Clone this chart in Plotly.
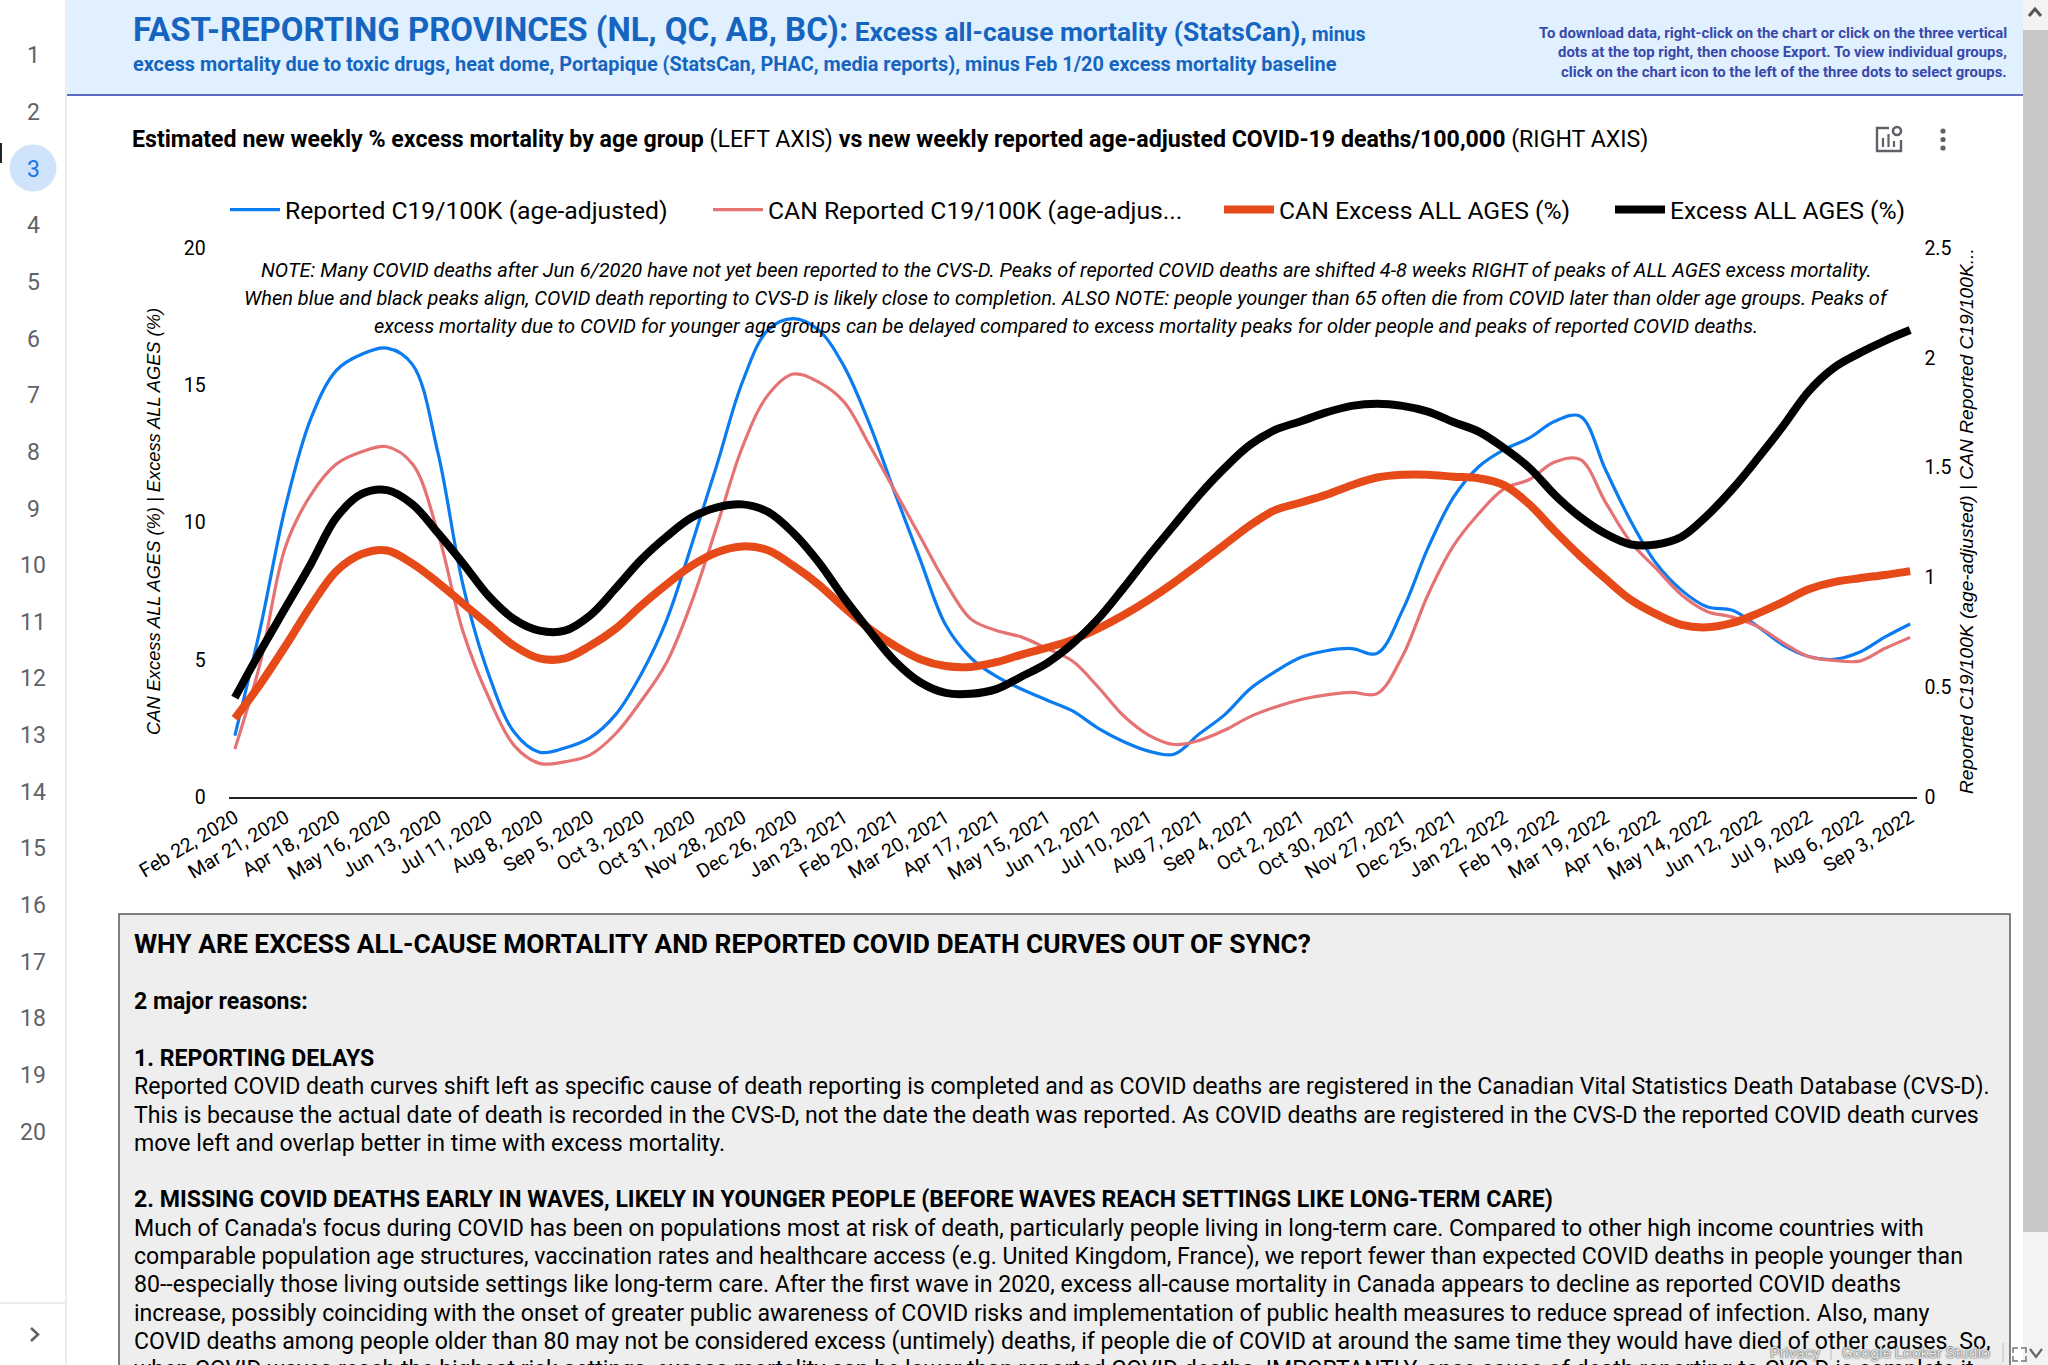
import pandas as pd
import plotly.graph_objects as go

start_date = "2020-02-22"
sample_count = 67
tick_labels = ["Feb 22, 2020","Mar 21, 2020","Apr 18, 2020","May 16, 2020","Jun 13, 2020","Jul 11, 2020",
    "Aug 8, 2020","Sep 5, 2020","Oct 3, 2020","Oct 31, 2020","Nov 28, 2020","Dec 26, 2020","Jan 23, 2021",
    "Feb 20, 2021","Mar 20, 2021","Apr 17, 2021","May 15, 2021","Jun 12, 2021","Jul 10, 2021","Aug 7, 2021",
    "Sep 4, 2021","Oct 2, 2021","Oct 30, 2021","Nov 27, 2021","Dec 25, 2021","Jan 22, 2022","Feb 19, 2022",
    "Mar 19, 2022","Apr 16, 2022","May 14, 2022","Jun 12, 2022","Jul 9, 2022","Aug 6, 2022","Sep 3, 2022"]

excess_all = [3.62,5.30,6.90,8.50,10.18,11.04,11.18,10.66,9.62,8.50,7.32,6.48,6.06,6.06,6.62,7.60,8.64,9.48,
    10.18,10.55,10.66,10.39,9.62,8.55,7.25,6.06,4.95,4.18,3.79,3.76,3.93,4.39,4.88,5.58,6.48,7.60,8.78,9.90,
    11.01,11.99,12.83,13.38,13.69,14.01,14.25,14.33,14.25,14.04,13.66,13.31,12.71,11.99,11.01,10.20,9.59,9.20,
    9.20,9.48,10.25,11.22,12.34,13.52,14.78,15.64,16.17,16.62,17.01]
can_excess_all = [2.86,4.11,5.51,6.97,8.23,8.85,8.98,8.50,7.81,7.04,6.27,5.51,5.05,5.05,5.51,6.13,6.97,7.74,
    8.43,8.92,9.13,8.99,8.43,7.74,6.90,6.13,5.51,5.02,4.77,4.74,4.91,5.19,5.44,5.72,6.13,6.62,7.18,7.81,8.50,
    9.20,9.90,10.46,10.73,11.01,11.36,11.64,11.74,11.74,11.67,11.61,11.36,10.66,9.69,8.78,7.95,7.18,6.66,6.27,
    6.18,6.34,6.69,7.11,7.57,7.83,7.97,8.09,8.23]
reported = [0.279,0.767,1.325,1.725,1.943,2.016,2.044,1.969,1.568,0.959,0.558,0.296,0.204,0.223,0.270,0.375,
    0.558,0.802,1.150,1.516,1.891,2.126,2.178,2.126,1.961,1.699,1.385,1.081,0.784,0.633,0.549,0.491,0.441,
    0.392,0.314,0.253,0.209,0.195,0.288,0.375,0.493,0.572,0.636,0.666,0.676,0.654,0.850,1.133,1.363,1.504,
    1.582,1.635,1.711,1.734,1.490,1.255,1.063,0.941,0.866,0.850,0.776,0.692,0.640,0.627,0.659,0.728,0.788]
can_reported = [0.218,0.610,1.141,1.377,1.516,1.572,1.595,1.516,1.203,0.749,0.453,0.235,0.153,0.160,0.192,
    0.288,0.436,0.610,0.889,1.237,1.595,1.830,1.926,1.889,1.799,1.603,1.394,1.185,0.976,0.810,0.758,0.728,
    0.676,0.619,0.502,0.371,0.282,0.239,0.258,0.305,0.366,0.410,0.444,0.465,0.476,0.471,0.641,0.920,1.142,
    1.290,1.403,1.446,1.525,1.537,1.342,1.159,1.040,0.920,0.845,0.819,0.776,0.702,0.640,0.622,0.619,0.676,0.727]

series_names = ["Reported C19/100K (age-adjusted)", "CAN Reported C19/100K (age-adjus...",
                "CAN Excess ALL AGES (%)", "Excess ALL AGES (%)"]

note_lines = [
 "NOTE: Many COVID deaths after Jun 6/2020 have not yet been reported to the CVS-D. Peaks of reported COVID deaths are shifted 4-8 weeks RIGHT of peaks of ALL AGES excess mortality.",
 "When blue and black peaks align, COVID death reporting to CVS-D is likely close to completion. ALSO NOTE: people younger than 65 often die from COVID later than older age groups. Peaks of",
 "excess mortality due to COVID for younger age groups can be delayed compared to excess mortality peaks for older people and peaks of reported COVID deaths.",
]
body_lines = [
 (944, "<b>WHY ARE EXCESS ALL-CAUSE MORTALITY AND REPORTED COVID DEATH CURVES OUT OF SYNC?</b>", 26.4),
 (1002, "<b>2 major reasons:</b>", 23.1),
 (1058, "<b>1. REPORTING DELAYS</b>", 23.1),
 (1086, "Reported COVID death curves shift left as specific cause of death reporting is completed and as COVID deaths are registered in the Canadian Vital Statistics Death Database (CVS-D).", 23.1),
 (1115, "This is because the actual date of death is recorded in the CVS-D, not the date the death was reported. As COVID deaths are registered in the CVS-D the reported COVID death curves", 23.1),
 (1143, "move left and overlap better in time with excess mortality.", 23.1),
 (1199, "<b>2. MISSING COVID DEATHS EARLY IN WAVES, LIKELY IN YOUNGER PEOPLE (BEFORE WAVES REACH SETTINGS LIKE LONG-TERM CARE)</b>", 23.1),
 (1228, "Much of Canada's focus during COVID has been on populations most at risk of death, particularly people living in long-term care. Compared to other high income countries with", 23.1),
 (1256, "comparable population age structures, vaccination rates and healthcare access (e.g. United Kingdom, France), we report fewer than expected COVID deaths in people younger than", 23.1),
 (1284, "80--especially those living outside settings like long-term care. After the first wave in 2020, excess all-cause mortality in Canada appears to decline as reported COVID deaths", 23.1),
 (1313, "increase, possibly coinciding with the onset of greater public awareness of COVID risks and implementation of public health measures to reduce spread of infection. Also, many", 23.1),
 (1341, "COVID deaths among people older than 80 may not be considered excess (untimely) deaths, if people die of COVID at around the same time they would have died of other causes. So,", 23.1),
 (1369, "when COVID waves reach the highest risk settings, excess mortality can be lower than reported COVID deaths. IMPORTANTLY, once cause of death reporting to CVS-D is complete it", 23.1),
]

# ---------- page geometry ----------
W, H = 2048, 1365
dates = pd.date_range(start_date, periods=sample_count, freq="14D")
px = lambda v: v / W
py = lambda v: 1 - v / H

shapes, annos = [], []

def rect(x0, y0, x1, y1, fill, line=None, lw=0):
    shapes.append(dict(type="rect", xref="paper", yref="paper", x0=px(x0), x1=px(x1), y0=py(y0), y1=py(y1),
                       fillcolor=fill, line=dict(color=line or fill, width=lw), layer="below"))

def seg(points, color, lw):
    d = "M " + " L ".join(f"{px(x):.5f},{py(y):.5f}" for x, y in points)
    shapes.append(dict(type="path", xref="paper", yref="paper", path=d, line=dict(color=color, width=lw), layer="above"))

def dot(cx, cy, r, fill, layer="above"):
    shapes.append(dict(type="circle", xref="paper", yref="paper", x0=px(cx-r), x1=px(cx+r), y0=py(cy+r), y1=py(cy-r),
                       fillcolor=fill, line=dict(width=0), layer=layer))

def text(x, y, s, size, color="#000000", anchor="left", angle=0, **font):
    annos.append(dict(x=px(x), y=py(y), xref="paper", yref="paper", text=s, showarrow=False, xanchor=anchor,
                      yanchor="middle", textangle=angle, borderpad=0, borderwidth=0,
                      font=dict(family="Roboto", size=size, color=color, **font)))

# backgrounds
rect(66, 0, 2023, 94, "#e1f0fe")
rect(66, 94, 2023, 96, "#5c6bc0")
rect(119, 914, 2010, 1380, "#eeeeee", "#5a5a5a", 1.5)
rect(2023, 0, 2048, H, "#f3f3f3")
rect(2023, 30, 2048, 1232, "#c8c8c8")
rect(65, 0, 67, H, "#ececec")
rect(0, 1302, 66, 1304, "#ececec")
rect(0, 143, 2, 163, "#222222")
dot(33, 168, 23.5, "#cfe4fb", "below")

# sidebar page numbers
for i in range(20):
    text(33, 55.8 + 56.65 * i, str(i + 1), 23, "#1a73e8" if i == 2 else "#5f6368", "center")
seg([(31, 1328), (38, 1334.5), (31, 1341)], "#5f6368", 2.6)
seg([(2029, 16), (2035, 9), (2041, 16)], "#555555", 3)

# header
text(133, 29, '<b>FAST-REPORTING PROVINCES (NL, QC, AB, BC):</b>'
              '<span style="font-size:26.4px"><b> Excess all-cause mortality (StatsCan),</b></span>'
              '<span style="font-size:19.5px"><b> minus</b></span>', 33, "#1565c0")
text(133, 64, "<b>excess mortality due to toxic drugs, heat dome, Portapique (StatsCan, PHAC, media reports), minus Feb 1/20 excess mortality baseline</b>", 19.85, "#1565c0")
for yy, s in [(33, "To download data, right-click on the chart or click on the three vertical"),
              (52, "dots at the top right, then choose Export. To view individual groups,"),
              (72, "click on the chart icon to the left of the three dots to select groups.")]:
    text(2007, yy, f"<b>{s}</b>", 14.9, "#3949ab", "right")

# chart title
text(132, 140, "<b>Estimated new weekly % excess mortality by age group</b> (LEFT AXIS) "
               "<b>vs new weekly reported age-adjusted COVID-19 deaths/100,000</b> (RIGHT AXIS)", 23.15)

# chart icon and menu dots
seg([(1889, 128), (1877, 128), (1877, 151), (1901, 151), (1901, 140)], "#5f6368", 2.4)
for bx, top in [(1883, 138), (1888.5, 134), (1894, 141)]:
    seg([(bx, top), (bx, 147)], "#5f6368", 2.2)
shapes.append(dict(type="circle", xref="paper", yref="paper", x0=px(1893), x1=px(1901), y0=py(135), y1=py(127),
                   fillcolor="#ffffff", line=dict(color="#5f6368", width=2.6)))
for yy in (131, 139.5, 148):
    dot(1943, yy, 2.6, "#5f6368")

# note over the plot
for yy, s in zip((270, 298, 326), note_lines):
    text(1066, yy, s, 20, "#000000", "center", style="italic")

# axis titles
text(153, 522, "CAN Excess ALL AGES (%) | Excess ALL AGES (%)", 18.3, "#000000", "center", -90, style="italic")
annos[-1]["font"]["family"] = "Liberation Sans"
text(1966, 521, "Reported C19/100K (age-adjusted) | CAN Reported C19/100K...", 19.2, "#000000", "center", -90, style="italic")
annos[-1]["font"]["family"] = "Liberation Sans"

# body panel
for yy, s, size in body_lines:
    text(134, yy, s, size)

# footer overlay
halo = "0 0 1px #555555, 0 0 2px #555555"
text(1770, 1353, "Privacy", 15.5, "#e6e6e6", shadow=halo)
text(1842, 1353, "Google Looker Studio", 15.5, "#e6e6e6", shadow=halo)
seg([(1831, 1345), (1831, 1360)], "#bbbbbb", 1)
seg([(2003, 1343), (2003, 1362)], "#bbbbbb", 1)
for a, b, c in [((2013, 1353), (2013, 1348), (2018, 1348)), ((2021, 1348), (2026, 1348), (2026, 1353)),
                ((2013, 1356), (2013, 1361), (2018, 1361)), ((2021, 1361), (2026, 1361), (2026, 1356))]:
    seg([a, b, c], "#777777", 1.5)
seg([(2030, 1349), (2036, 1357), (2042, 1349)], "#666666", 2.2)

# ---------- figure ----------
fig = go.Figure()
styles = [("#0b7bf0", 3.2, "y", reported, "legend"), ("#e57373", 3.2, "y", can_reported, "legend2"),
          ("#e64a19", 8, "y2", can_excess_all, "legend3"), ("#000000", 8, "y2", excess_all, "legend4")]
for name, (color, lw, axis, values, lg) in zip(series_names, styles):
    fig.add_trace(go.Scatter(x=dates, y=values, name=name, mode="lines", yaxis=axis, legend=lg,
                             line=dict(color=color, width=lw, shape="spline", smoothing=1.0)))

tick_font = dict(family="Roboto", size=19.5, color="#000000")

def legend_at(x):
    return dict(orientation="h", x=px(x), xanchor="left", y=py(210), yanchor="middle", itemwidth=50,
                font=dict(family="Roboto", size=24.7, color="#000000"), bgcolor="rgba(0,0,0,0)",
                itemclick=False, itemdoubleclick=False)

fig.update_layout(
    width=W, height=H, autosize=False, margin=dict(l=0, r=0, t=0, b=0, autoexpand=False),
    paper_bgcolor="#ffffff", plot_bgcolor="rgba(0,0,0,0)", showlegend=True, hovermode=False,
    shapes=shapes, annotations=annos,
    legend=legend_at(225), legend2=legend_at(708), legend3=legend_at(1219), legend4=legend_at(1610),
    xaxis=dict(domain=[px(228.5), px(1916.5)], type="date",
               range=["2020-02-18 12:00", "2022-09-06 12:00"],
               tickmode="array", tickvals=list(dates[::2]), ticktext=tick_labels, tickangle=-31,
               tickfont=tick_font, showgrid=False, zeroline=False, showline=True, linecolor="#222222",
               linewidth=1.5, ticks=""),
    yaxis=dict(domain=[py(797), py(248)], range=[0, 2.5], dtick=0.5, side="right", anchor="x",
               showgrid=False, zeroline=False, showline=False, tickfont=tick_font,
               ticks="outside", ticklen=3, tickcolor="rgba(0,0,0,0)"),
    yaxis2=dict(domain=[py(797), py(248)], range=[0, 20], dtick=5, side="left", overlaying="y", anchor="x",
                showgrid=False, zeroline=False, showline=False, tickfont=tick_font,
                ticks="outside", ticklen=18, tickcolor="rgba(0,0,0,0)"),
)

fig.write_html("out.html", config=dict(displayModeBar=False),
               post_script="document.body.style.margin='0';document.body.style.overflow='hidden';")
